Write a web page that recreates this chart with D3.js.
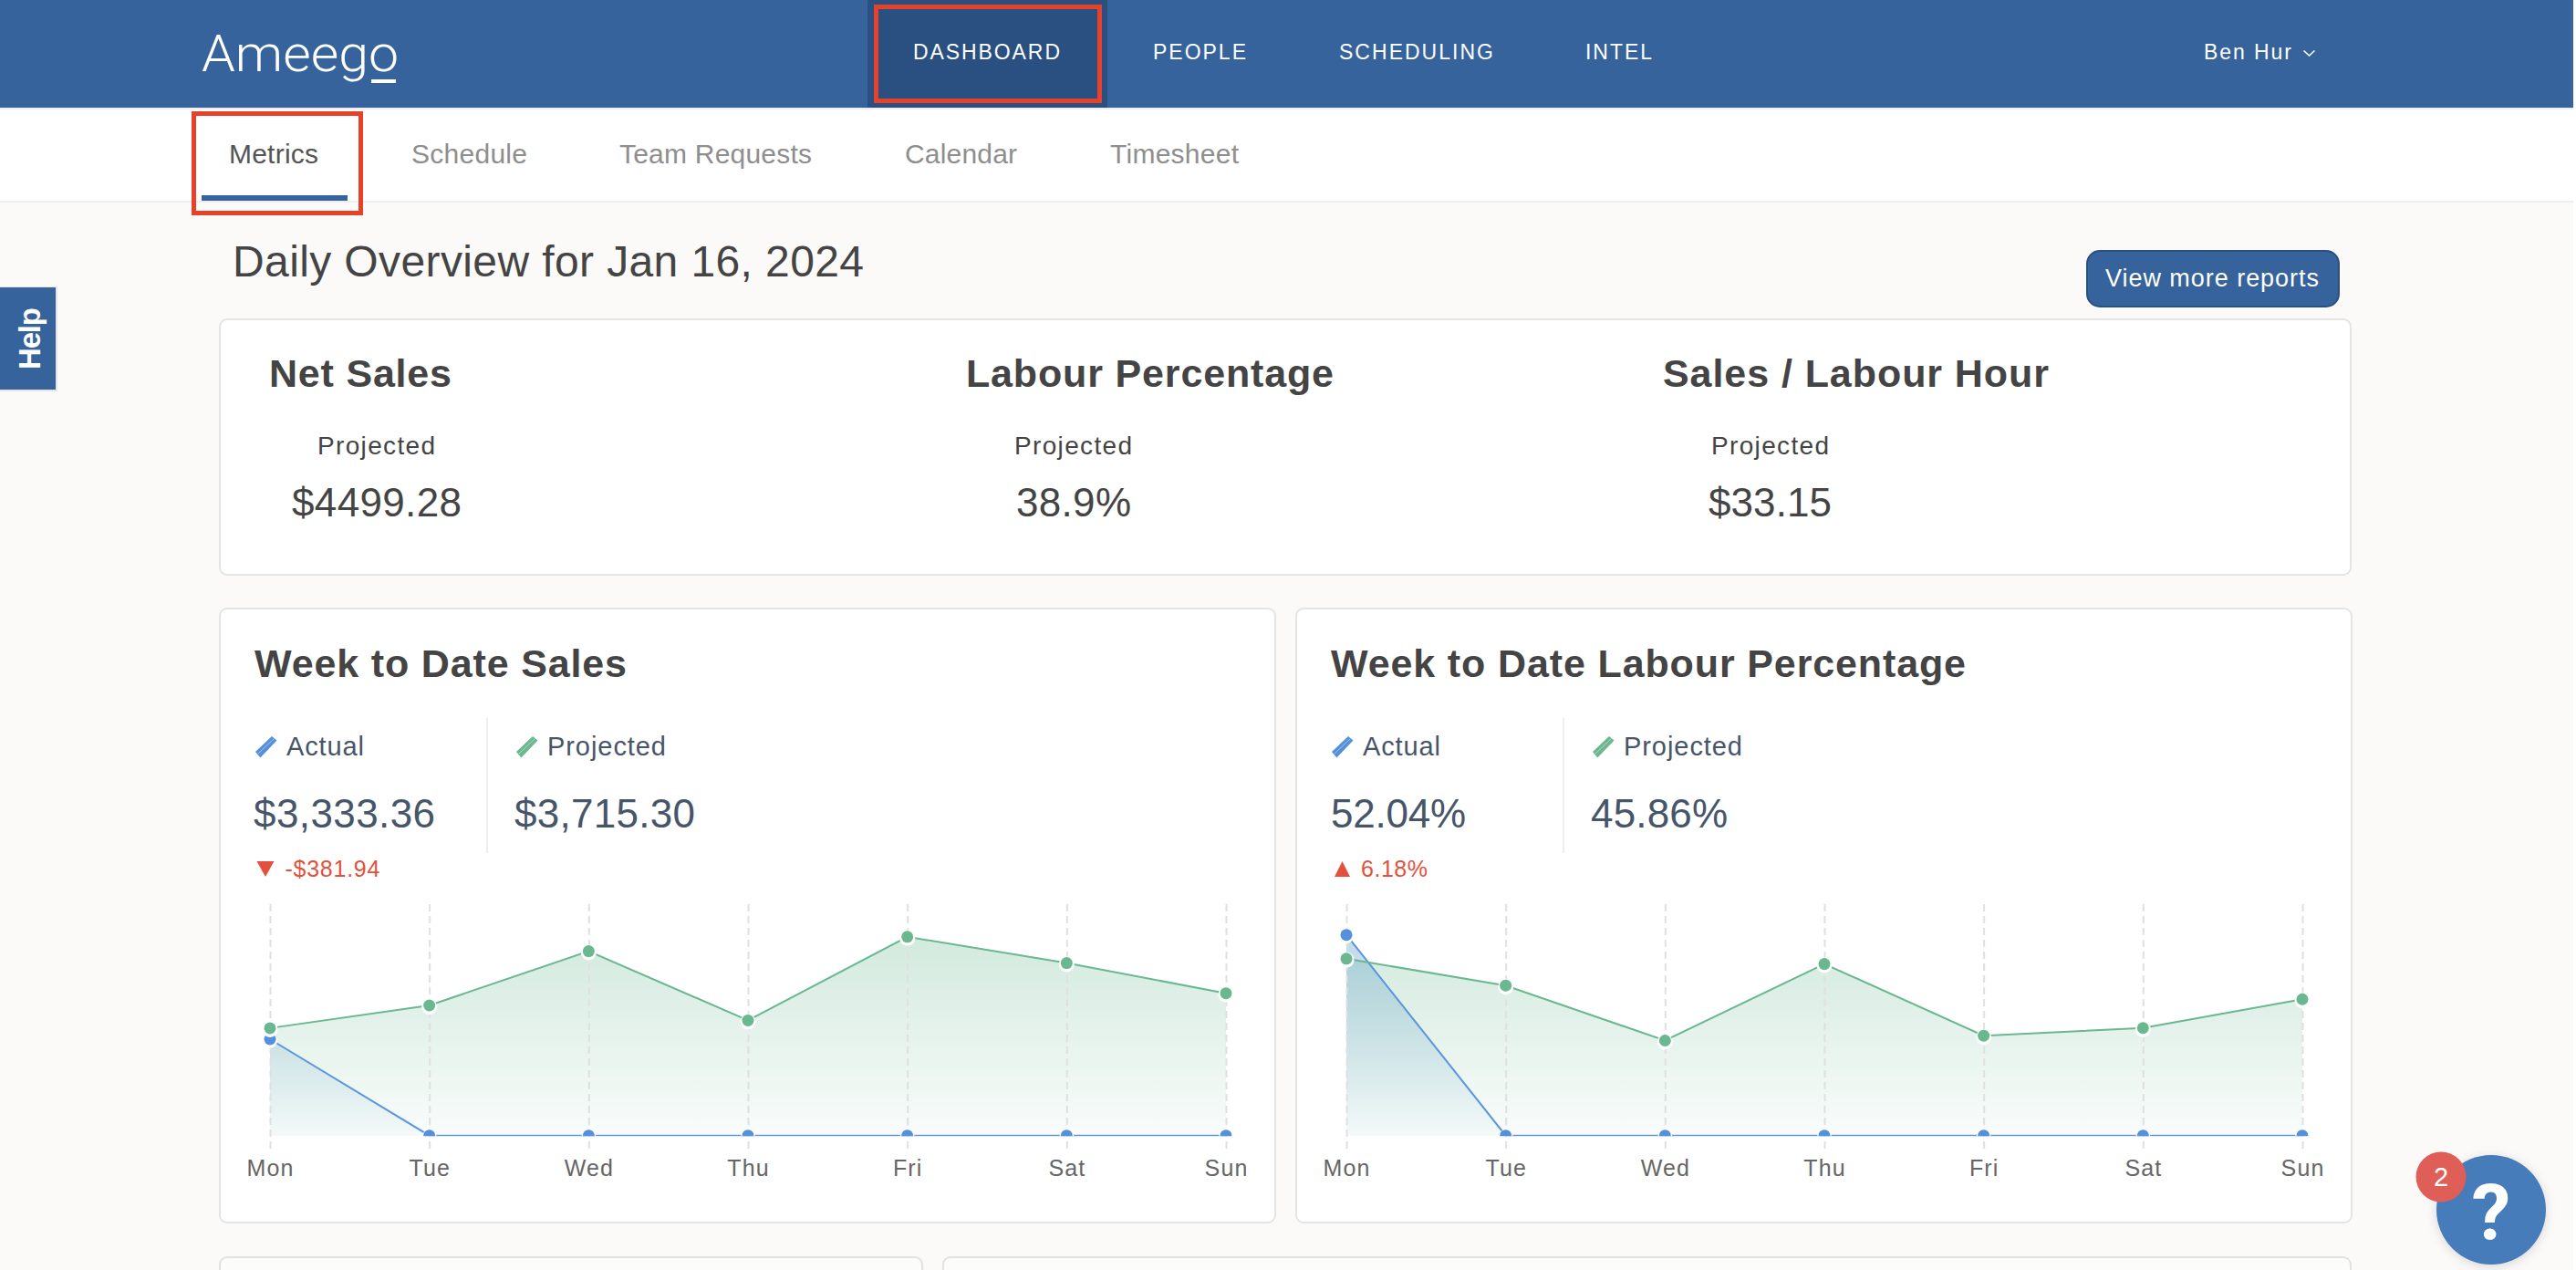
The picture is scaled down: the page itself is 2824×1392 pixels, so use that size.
<!DOCTYPE html>
<html><head><meta charset="utf-8">
<script src="https://cdn.jsdelivr.net/npm/d3@7"></script>
<style>
html,body{margin:0;padding:0;background:#fbfaf8;overflow:hidden}
svg{display:block}
text{font-family:"Liberation Sans",Arial,sans-serif}
.tick line{stroke:#e0e0e0;stroke-width:2;stroke-dasharray:8 5}
.tick text{font-size:25px;fill:#666;letter-spacing:1.1px;font-family:"Liberation Sans",Arial,sans-serif}
</style></head><body><script>
const days=["Mon","Tue","Wed","Thu","Fri","Sat","Sun"];
const salesProjected=[3715.30,4499.28,6375,3983,6870,5964,4921];
const salesActual=[3333.36,0,0,0,0,0,0];
const labourProjected=[45.86,38.9,24.65,44.5,25.9,27.9,35.35];
const labourActual=[52.04,0,0,0,0,0,0];
const mainNav=["DASHBOARD","PEOPLE","SCHEDULING","INTEL"];
const subNav=["Metrics","Schedule","Team Requests","Calendar","Timesheet"];
const kpiTitles=["Net Sales","Labour Percentage","Sales / Labour Hour"];
const kpiValues=["$4499.28","38.9%","$33.15"];

const blue="#36639b",blueDark="#2a5082",red="#e8412a",ink="#444",slate="#475569";
const svg=d3.select("body").append("svg").attr("width",2824).attr("height",1392);
const defs=svg.append("defs");
function rect(x,y,w,h,fill,o={}){const r=svg.append("rect").attr("x",x).attr("y",y).attr("width",w).attr("height",h).attr("fill",fill);
 if(o.stroke)r.attr("stroke",o.stroke).attr("stroke-width",o.sw||2);if(o.rx)r.attr("rx",o.rx);return r;}
function txt(s,x,y,size,fill,len,o={}){const t=(o.g||svg).append("text").attr("x",x).attr("y",y).attr("font-size",size).attr("fill",fill).text(s);
 if(o.bold)t.attr("font-weight","bold");
 if(len)t.attr("textLength",len).attr("lengthAdjust",o.adj||"spacing");
 if(o.anchor)t.attr("text-anchor",o.anchor);return t;}

// page chrome
rect(0,0,2824,1392,"#fbfaf8");
rect(0,0,2821,118,blue);
rect(0,118,2821,2,"#eeeeef");
rect(0,120,2821,100,"#fff");
rect(0,220,2821,2,"#eeeeef");
rect(2821,0,3,1392,"#fff");
rect(951,0,263,118,blueDark);
rect(960.5,7.5,245,103,"none",{stroke:red,sw:5});

// logo
txt("Ameego",221,78,56,"#fff",216,{adj:"spacingAndGlyphs"}).style("font-family","Roboto,'Liberation Sans'").style("font-weight",300);
rect(407,87,27,4,"#fff");

// top navigation
const navX=[[1001,161],[1264,102],[1468,169],[1738,73]];
mainNav.forEach((n,i)=>txt(n,navX[i][0],65,23,"#fff",navX[i][1]));
txt("Ben Hur",2416,65,23,"#fff",96);
svg.append("path").attr("d",d3.line()([[2525.5,55.5],[2531.5,61],[2537.5,55.5]])).attr("fill","none").attr("stroke","#fff").attr("stroke-width",1.6);

// sub navigation
const subX=[[251,98],[451,127],[679,211],[992,123],[1217,141]];
subNav.forEach((n,i)=>txt(n,subX[i][0],179,30,i?"#8e8e8e":"#555",subX[i][1]));
rect(221,214,160,6,blue);
rect(212.5,124.5,183,109,"none",{stroke:red,sw:5});

// heading + button
txt("Daily Overview for Jan 16, 2024",255,303,48,ink,692);
rect(2288,275,276,61,blue,{stroke:blueDark,sw:2,rx:14});
txt("View more reports",2308,314,27,"#fff",234);

// help tab
rect(0,314,63,115,"#e6e6e6");
rect(0,315,61,112,blue);
svg.append("text").attr("transform","translate(44,405) rotate(-90)").attr("font-size",33).attr("font-weight","bold").attr("fill","#fff").attr("textLength",68).text("Help");

// KPI card
rect(241,350,2336,280,"#fff",{stroke:"#e4e4e4",rx:8});
const kpiT=[[295,200],[1059,403],[1823,423]];
const kpiP=[[348,129],[1112,129],[1876,129]];
const kpiV=[[320,186],[1114,126],[1873,135]];
kpiTitles.forEach((s,i)=>{
 txt(s,kpiT[i][0],424,43,ink,kpiT[i][1],{bold:true});
 txt("Projected",kpiP[i][0],498,28,ink,kpiP[i][1]);
 txt(kpiValues[i],kpiV[i][0],566,44,ink,kpiV[i][1]);
});

// partial lower cards
rect(241,1378,770,40,"#fcfcfb",{stroke:"#e2e2e2",rx:8});
rect(1034,1378,1543,40,"#fcfcfb",{stroke:"#e2e2e2",rx:8});

// chart cards
function pencil(x,y,c){
 const g=svg.append("g").attr("transform",`translate(${x},${y})`);
 g.append("polygon").attr("points","0,17 18,0 23.5,4.5 5.4,23.5").attr("fill",c);
 g.append("line").attr("x1",3).attr("y1",19).attr("x2",20.5).attr("y2",2.5).attr("stroke","#fff").attr("stroke-opacity",.45).attr("stroke-width",1);
}
function chartCard(cfg){
 const o=cfg.dx;
 rect(241+o,667,1157,673,"#fff",{stroke:"#e4e4e4",rx:8});
 txt(cfg.title,279+o,742,43,ink,cfg.titleLen,{bold:true});
 rect(533+o+cfg.sep,787,2,148,"#eee");
 pencil(280+o,807,"#5590dd");
 txt("Actual",314+o,828,29,slate,85);
 pencil(566+o+cfg.sep,807,"#6ab88f");
 txt("Projected",600+o+cfg.sep,828,29,slate,130);
 txt(cfg.actualText,279+o+cfg.valDx,907,44,slate,cfg.valLen);
 txt(cfg.projText,566+o+cfg.sep-2,907,44,slate,cfg.valLen2);
 const tri=cfg.up?[[1463,961],[1480,961],[1471.5,944]]:[[281.5,944],[300.5,944],[291,961]];
 svg.append("polygon").attr("points",tri.join(" ")).attr("fill","#e2513d");
 txt(cfg.deltaText,cfg.deltaX,961,25,"#e2513d",cfg.deltaLen);

 const x=d3.scalePoint().domain(days).range([296+o,1344+o]);
 const y=d3.scaleLinear().domain(cfg.domain).range([1244.7,991]);
 const idG="g"+cfg.id,idB="b"+cfg.id,clip="c"+cfg.id;
 const mk=(id,col,a0,a1,y0)=>{const g=defs.append("linearGradient").attr("id",id).attr("gradientUnits","userSpaceOnUse").attr("x1",0).attr("x2",0).attr("y1",y0).attr("y2",y(0));
  g.append("stop").attr("offset",0).attr("stop-color",col).attr("stop-opacity",a0);
  g.append("stop").attr("offset",1).attr("stop-color",col).attr("stop-opacity",a1);};
 mk(idG,"#6ab890",.3,.04,1027);
 mk(idB,"#5b9cc7",.38,.03,1027);
 defs.append("clipPath").attr("id",clip).append("rect").attr("x",o+200).attr("y",960).attr("width",1240).attr("height",y(0)+0.6-960);
 const recs=v=>v.map((d,i)=>({day:days[i],v:d}));
 const area=d3.area().x(d=>x(d.day)).y0(y(0)).y1(d=>y(d.v));
 const line=d3.line().x(d=>x(d.day)).y(d=>y(d.v));
 const P=recs(cfg.projected),A=recs(cfg.actual);
 svg.append("path").datum(P).attr("d",area).attr("fill",`url(#${idG})`);
 svg.append("path").datum(A).attr("d",area).attr("fill",`url(#${idB})`);
 const axis=svg.append("g").attr("transform","translate(0,991)").call(d3.axisBottom(x).tickSize(271).tickPadding(9));
 axis.select(".domain").remove();
 const plot=svg.append("g").attr("clip-path",`url(#${clip})`);
 plot.append("path").datum(A).attr("d",line).attr("fill","none").attr("stroke","#5a96df").attr("stroke-width",2);
 plot.append("path").datum(P).attr("d",line).attr("fill","none").attr("stroke","#6ab890").attr("stroke-width",2);
 const dots=(data,c,halo)=>{
  plot.selectAll(null).data(data).join("circle").attr("cx",d=>x(d.day)).attr("cy",d=>y(d.v)+1.5).attr("r",halo).attr("fill","#fff");
  plot.selectAll(null).data(data).join("circle").attr("cx",d=>x(d.day)).attr("cy",d=>y(d.v)).attr("r",6.5).attr("fill",c);
 };
 dots(A,"#5590dd",8);
 dots(P,"#6ab88f",8.5);
}
chartCard({id:"s",dx:0,title:"Week to Date Sales",titleLen:408,sep:0,valDx:-1,actualText:"$3,333.36",projText:"$3,715.30",valLen:199,valLen2:198,
 deltaText:"-$381.94",deltaX:312.4,deltaLen:104,up:false,domain:[0,8000],projected:salesProjected,actual:salesActual});
chartCard({id:"l",dx:1180,title:"Week to Date Labour Percentage",titleLen:696,sep:0,valDx:0,actualText:"52.04%",projText:"45.86%",valLen:148,valLen2:150,
 deltaText:"6.18%",deltaX:1492,deltaLen:73,up:true,domain:[0,60],projected:labourProjected,actual:labourActual});

// chat button
const sh=defs.append("filter").attr("id","sh").attr("x","-30%").attr("y","-30%").attr("width","160%").attr("height","160%");
sh.append("feDropShadow").attr("dx",0).attr("dy",2).attr("stdDeviation",6).attr("flood-color","#000").attr("flood-opacity",.14);
svg.append("circle").attr("cx",2731).attr("cy",1326).attr("r",60).attr("fill","#477bbb").attr("filter","url(#sh)");
txt("?",2731,1359,86,"#fff",0,{bold:true,anchor:"middle"}).style("font-family","Roboto,'Liberation Sans'").style("font-weight",700);
svg.append("circle").attr("cx",2676).attr("cy",1290).attr("r",27.5).attr("fill","#e05e58");
txt("2",2676,1300,29,"#fff",0,{anchor:"middle"});
</script></body></html>
